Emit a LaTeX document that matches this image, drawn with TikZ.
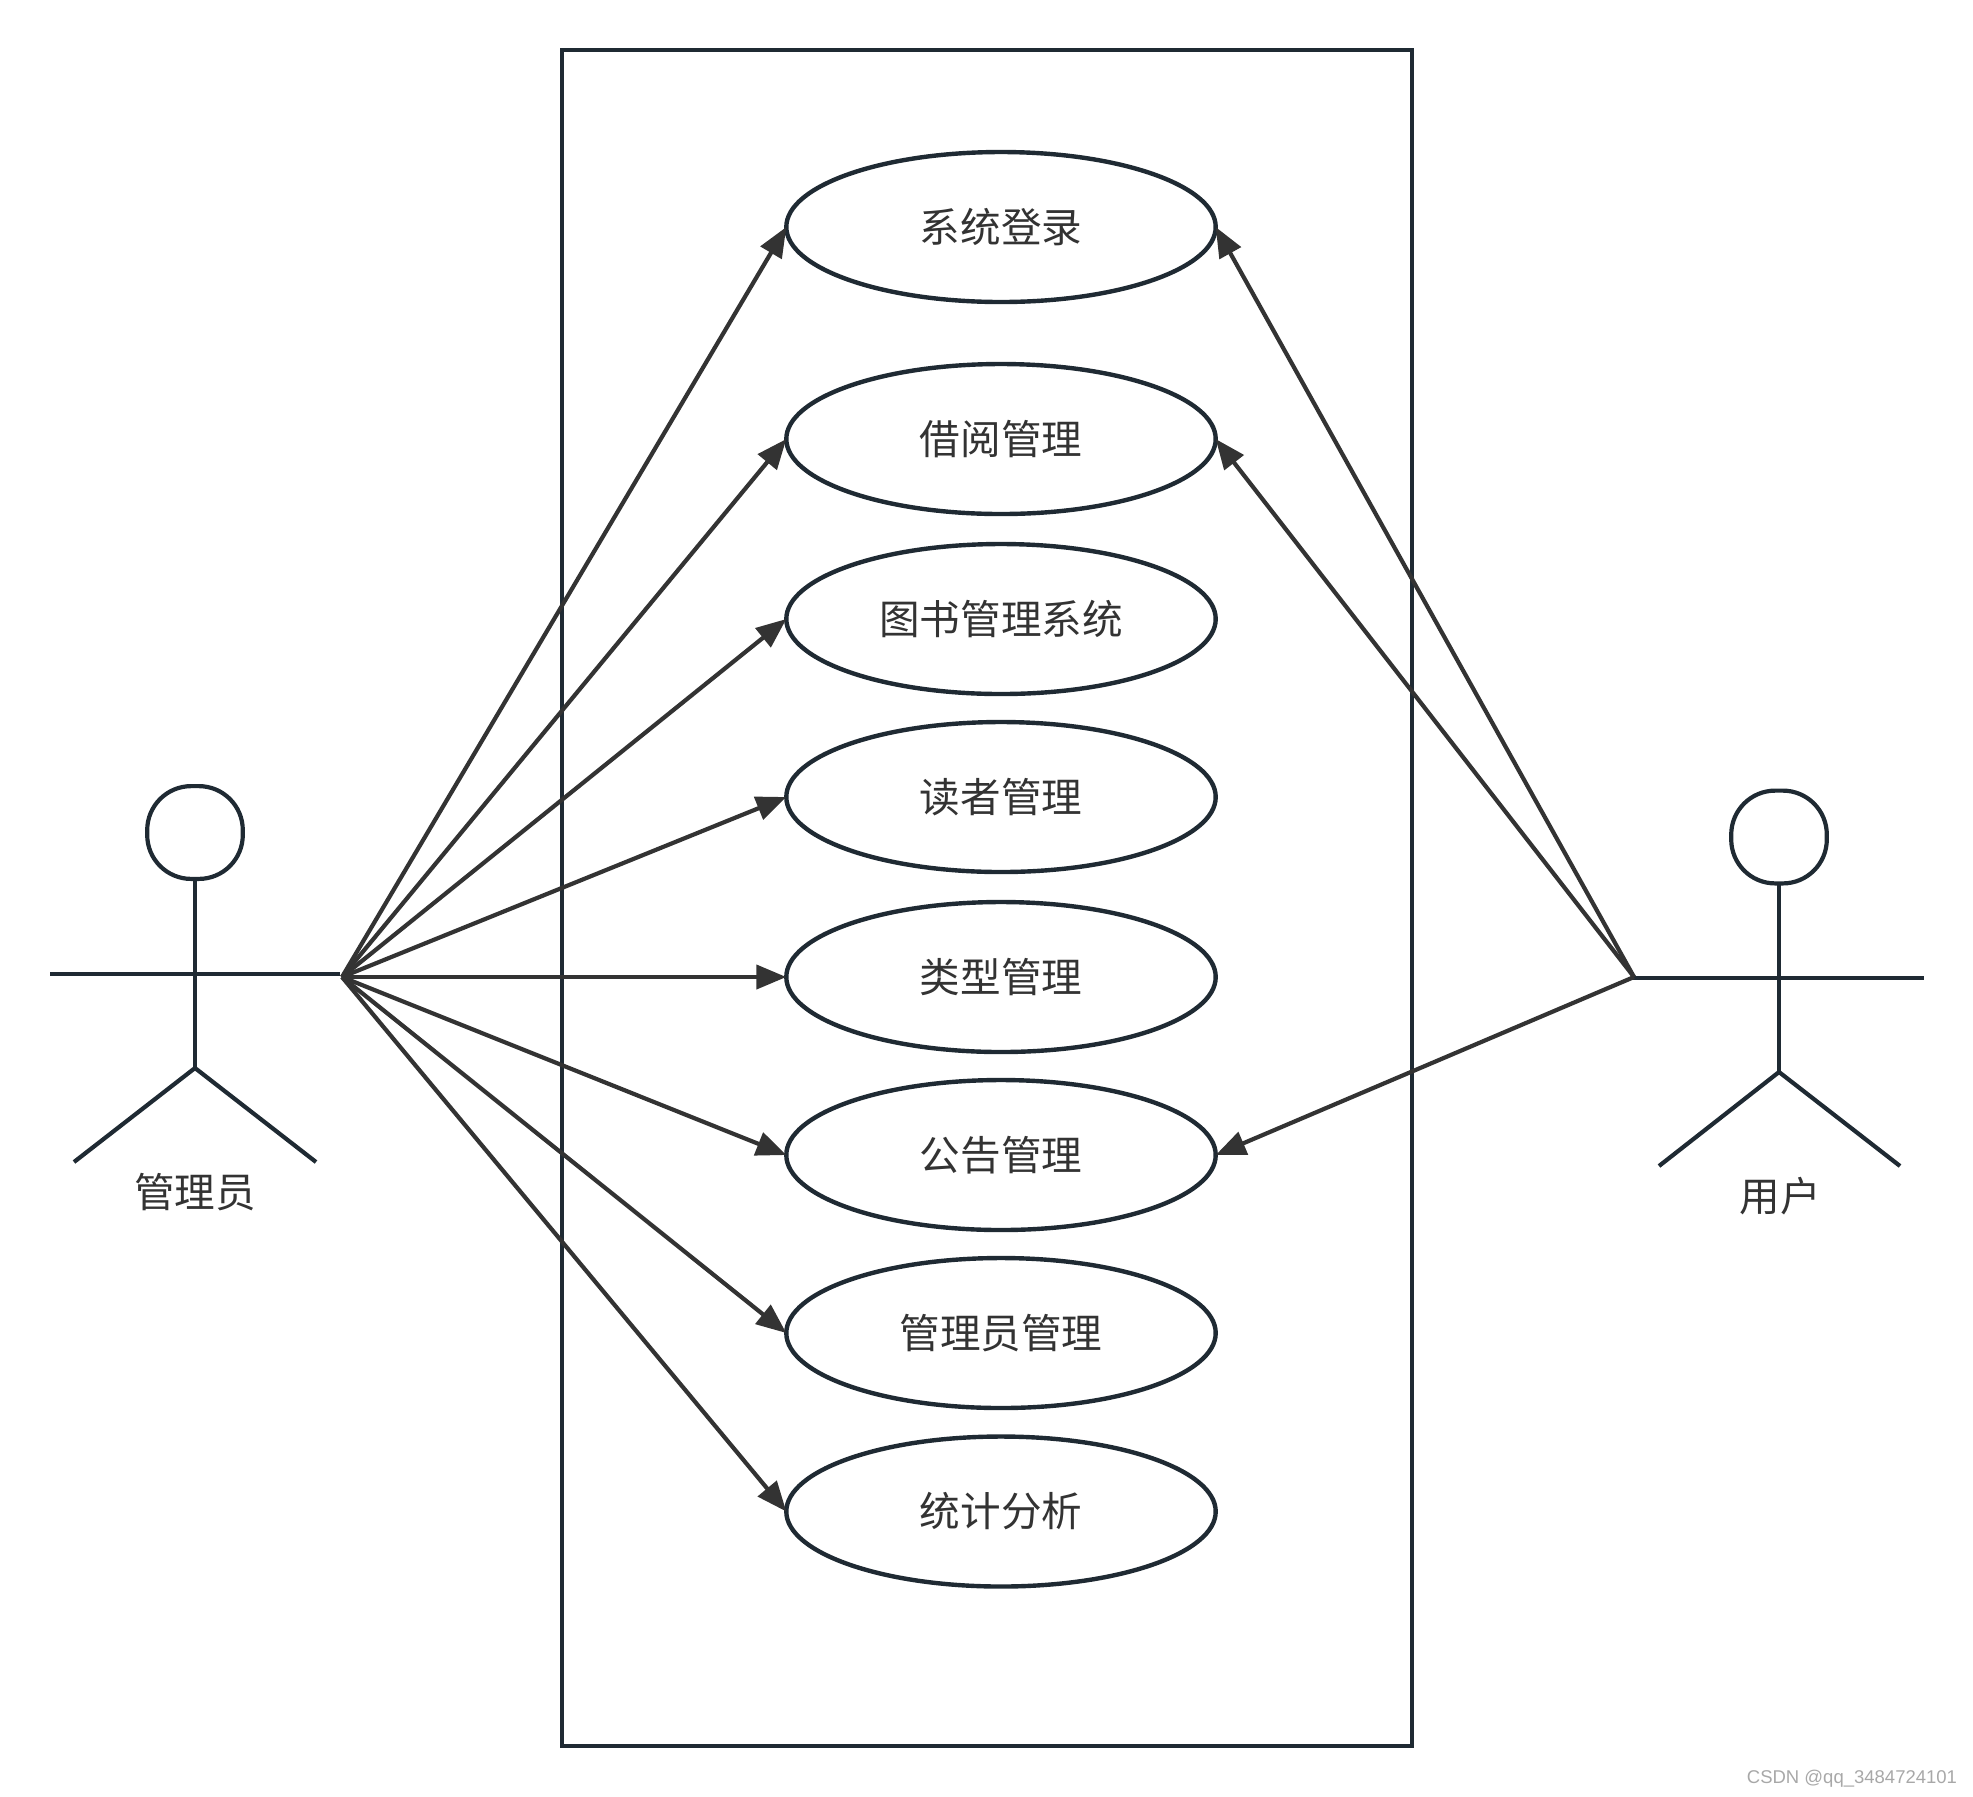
\documentclass[tikz,border=0pt]{standalone}
\usepackage{fontspec}
\setmainfont{Noto Sans CJK SC}
\newfontfamily\wmfont{Liberation Sans}
\usetikzlibrary{arrows.meta,shapes.geometric}
\definecolor{ink}{HTML}{1F2A33}
\definecolor{wire}{HTML}{333333}
\definecolor{wmgray}{HTML}{A8A8A8}
\tikzset{
  every node/.style={outer sep=0pt,inner sep=0pt},
  usecase/.style={draw=ink,fill=white,shape=ellipse,line width=2.2pt,minimum width=214.7pt,minimum height=75pt,text=wire,font=\fontsize{20.3}{24}\selectfont},
  boundary/.style={draw=ink,line width=2pt,minimum width=425pt,minimum height=848pt},
  actorhead/.style={draw=ink,line width=2.1pt,rectangle,rounded corners=22pt,minimum width=47.8pt,minimum height=46.4pt},
  limb/.style={draw=ink,line width=2.1pt},
  actorlabel/.style={text=wire,font=\fontsize{20.3}{24}\selectfont},
  assoc/.style={draw=wire,line width=2.1pt,-{Triangle[length=15pt,width=12pt]},fill=none},
}
\begin{document}
\begin{tikzpicture}[x=0.5pt,y=-0.5pt]
\useasboundingbox (0,0) rectangle (1973,1796);
\node[boundary] (sys) at (987,898) {};
\node[usecase] (e1) at (1001,227) {系统登录};
\node[usecase] (e2) at (1001,439) {借阅管理};
\node[usecase] (e3) at (1001,619) {图书管理系统};
\node[usecase] (e4) at (1001,797) {读者管理};
\node[usecase] (e5) at (1001,977) {类型管理};
\node[usecase] (e6) at (1001,1155) {公告管理};
\node[usecase] (e7) at (1001,1333) {管理员管理};
\node[usecase] (e8) at (1001,1511.5) {统计分析};
% administrator actor
\node[actorhead] (aHead) at (195,832.5) {};
\coordinate (aHip) at (195,1068);
\coordinate (aArmL) at (50,974);
\coordinate (aArmR) at (340,974);
\coordinate (aFootL) at (74,1162);
\coordinate (aFootR) at (316,1162);
\coordinate (aFan) at (342,977);
\draw[limb] (aHead.south) -- (aHip);
\draw[limb] (aArmL) -- (aArmR);
\draw[limb] (aFootL) -- (aHip) -- (aFootR);
\node[actorlabel] (aLabel) at (195,1192) {管理员};
% user actor
\node[actorhead] (uHead) at (1779,837) {};
\coordinate (uHip) at (1779,1072);
\coordinate (uArmL) at (1633,978);
\coordinate (uArmR) at (1924,978);
\coordinate (uFootL) at (1659,1166);
\coordinate (uFootR) at (1900,1166);
\coordinate (uFan) at (1634,977);
\draw[limb] (uHead.south) -- (uHip);
\draw[limb] (uArmL) -- (uArmR);
\draw[limb] (uFootL) -- (uHip) -- (uFootR);
\node[actorlabel] (uLabel) at (1780,1196) {用户};
% connectors
\foreach \t in {e1,e2,e3,e4,e5,e6,e7,e8}{
  \draw[assoc] (aFan) -- (\t.west);
}
\foreach \t in {e1,e2,e6}{
  \draw[assoc] (uFan) -- (\t.east);
}
\node[text=wmgray,font=\wmfont\fontsize{9.25}{11}\selectfont,anchor=east] (wm) at (1957,1779) {CSDN @qq\_3484724101};
\end{tikzpicture}
\end{document}
